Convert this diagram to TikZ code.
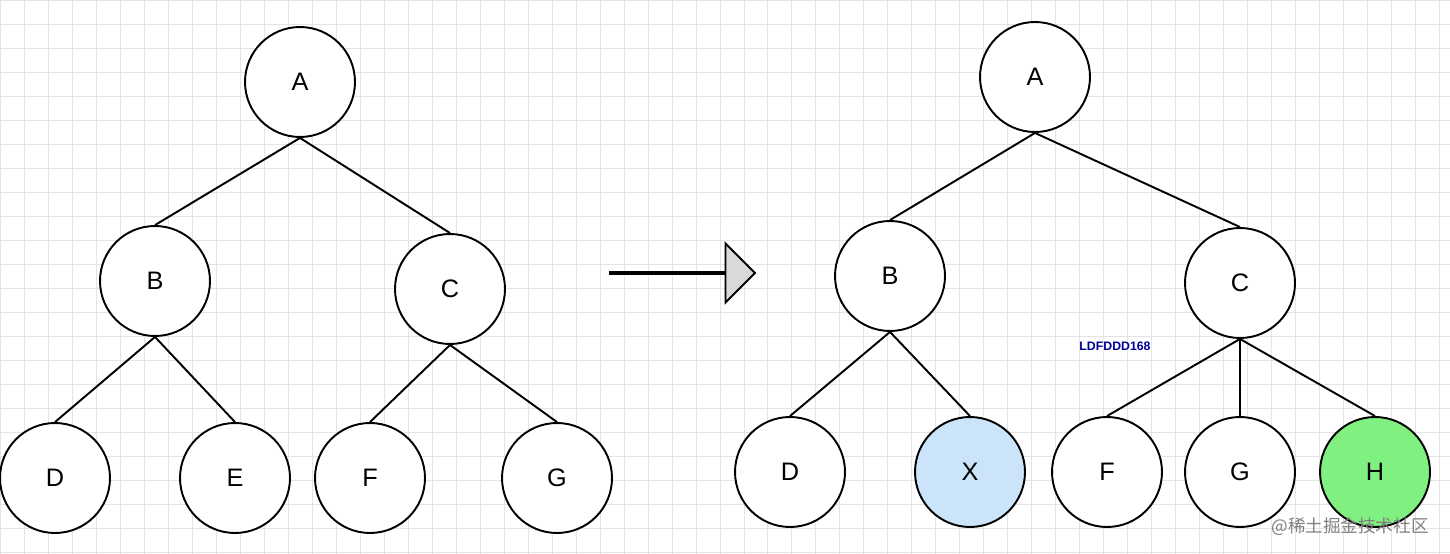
\documentclass[tikz,border=0pt]{standalone}
\usepackage{fontspec}
\setmainfont{Liberation Sans}
\newfontfamily\cjkfont{Noto Sans CJK SC}
\usetikzlibrary{shapes.arrows}
\definecolor{xblue}{RGB}{204,228,250}
\definecolor{hgreen}{RGB}{128,240,128}
\definecolor{gridgray}{RGB}{228,228,228}
\begin{document}
\begin{tikzpicture}[x=0.02cm,y=-0.02cm,
		treenode/.style={circle, draw=black, line width=1.1pt, fill=white, minimum size=2.2cm, inner sep=0pt, font=\Large},
		edge/.style={draw=black, line width=1.1pt},
		]
		\useasboundingbox (0,0) rectangle (1450,554);
		\fill[white] (0,0) rectangle (1450,554);
		\draw[gridgray, step=0.48cm] (0,0) grid (1450,554);
		
		%Left tree
		\node[treenode] (lA) at (300,82)  {A};
		\node[treenode] (lB) at (155,281) {B};
		\node[treenode] (lC) at (450,289) {C};
		\node[treenode] (lD) at (55,478)  {D};
		\node[treenode] (lE) at (235,478) {E};
		\node[treenode] (lF) at (370,478) {F};
		\node[treenode] (lG) at (557,478) {G};
		
		%Right tree
		\node[treenode] (rA) at (1035,77)  {A};
		\node[treenode] (rB) at (890,276)  {B};
		\node[treenode] (rC) at (1240,283) {C};
		\node[treenode] (rD) at (790,472)  {D};
		\node[treenode, fill=xblue]  (rX) at (970,472)  {X};
		\node[treenode] (rF) at (1107,472) {F};
		\node[treenode] (rG) at (1240,472) {G};
		\node[treenode, fill=hgreen] (rH) at (1375,472) {H};
		
		%Arrow
		\node[single arrow, draw=black, line width=1.1pt, fill=gray!30, minimum width=0.7cm,
		  single arrow head extend=0.57cm, minimum height=2.9cm, inner sep=0pt] (arrow) at (682,273) {};
		
		%Labels
		\node[text=blue!60!black, font=\scriptsize\bfseries] (tag) at (1115,346) {LDFDDD168};
		\node[text=gray, font=\cjkfont\normalsize] (mark) at (1350,527) {@稀土掘金技术社区};
		
		%Lines
		\draw[edge] (lA.south) -- (lB.north);
		\draw[edge] (lA.south) -- (lC.north);
		\draw[edge] (lB.south) -- (lD.north);
		\draw[edge] (lB.south) -- (lE.north);
		\draw[edge] (lC.south) -- (lF.north);
		\draw[edge] (lC.south) -- (lG.north);
		\draw[edge] (rA.south) -- (rB.north);
		\draw[edge] (rA.south) -- (rC.north);
		\draw[edge] (rB.south) -- (rD.north);
		\draw[edge] (rB.south) -- (rX.north);
		\draw[edge] (rC.south) -- (rF.north);
		\draw[edge] (rC.south) -- (rG.north);
		\draw[edge] (rC.south) -- (rH.north);
	\end{tikzpicture}
\end{document}
